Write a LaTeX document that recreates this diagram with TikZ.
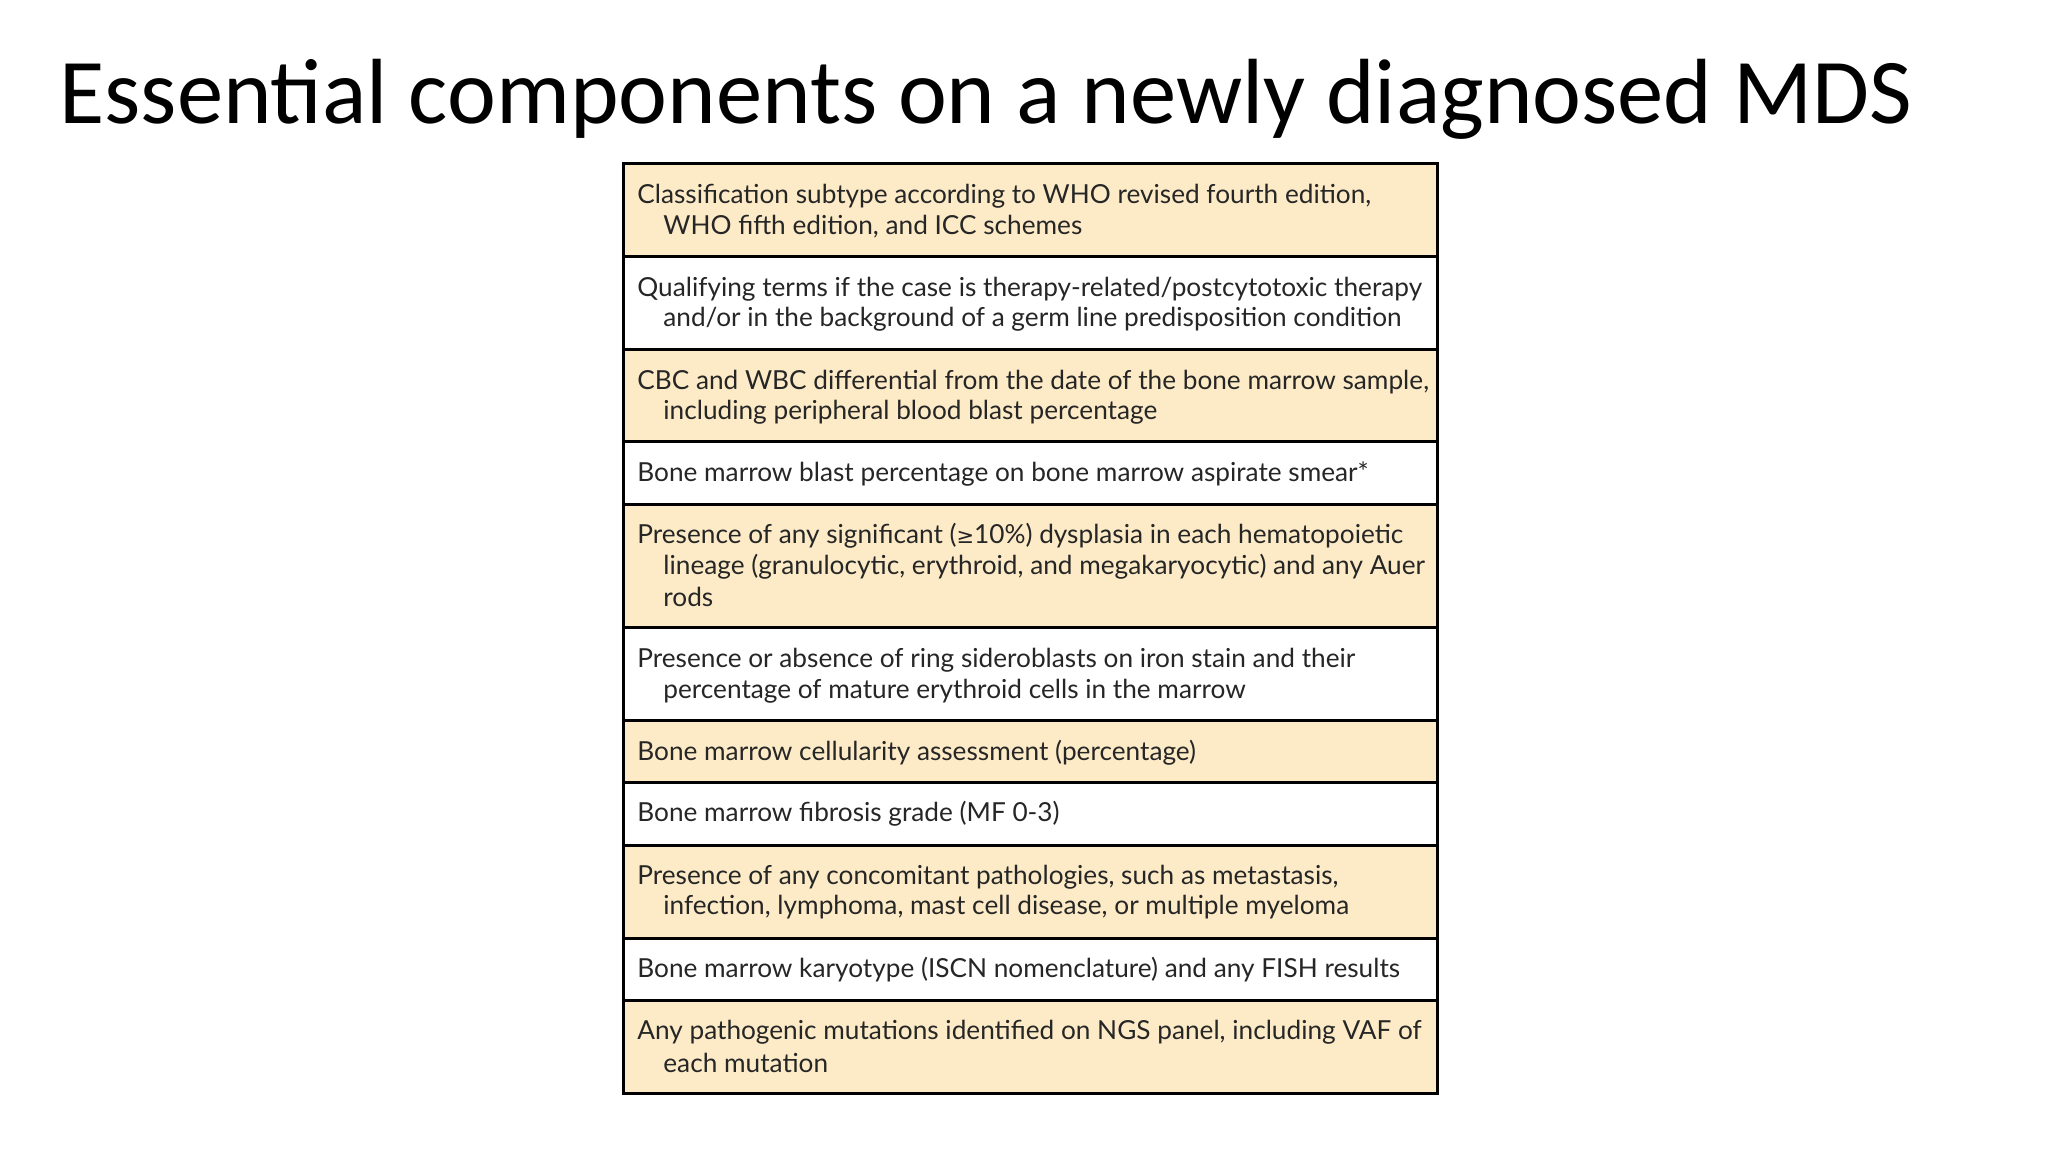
\documentclass[tikz,border=0pt]{standalone}
\usepackage{fontspec}
\setmainfont{Carlito}
\newfontfamily\tabfont{Lato}
\begin{document}
\begin{tikzpicture}[x=0.5pt,y=-0.5pt,
  tan/.style={fill={rgb,255:red,252;green,235;blue,198}},
  wht/.style={fill=white},
  cell/.style={draw=black,line width=1.5pt},
  txt/.style={anchor=west,inner sep=0pt,font=\tabfont\fontsize{13.1}{15}\selectfont,text=black!85}]
\useasboundingbox (0,0) rectangle (2048,1152);
\node[anchor=west,inner sep=0pt,font=\fontsize{46.3}{50}\selectfont] (title) at (59,99) {Essential components on a newly diagnosed MDS};
\foreach \a/\b/\s in {163/256/tan,256/349/wht,349/441/tan,441/504/wht,504/627/tan,627/720/wht,720/782/tan,782/845/wht,845/938/tan,938/1000/wht,1000/1093/tan}
  \path[\s] (623,\a) rectangle (1437,\b);
\foreach \a/\b in {163/256,256/349,349/441,441/504,504/627,627/720,720/782,782/845,845/938,938/1000,1000/1093}
  \draw[cell] (623,\a) rectangle (1437,\b);
\node[txt] (r1a) at (637,196) {Classification subtype according to WHO revised fourth edition,};
\node[txt] (r1b) at (663,227) {WHO fifth edition, and ICC schemes};
\node[txt] (r2a) at (637,289) {Qualifying terms if the case is therapy-related/postcytotoxic therapy};
\node[txt] (r2b) at (663,319) {and/or in the background of a germ line predisposition condition};
\node[txt] (r3a) at (637,382) {CBC and WBC differential from the date of the bone marrow sample,};
\node[txt] (r3b) at (663,412) {including peripheral blood blast percentage};
\node[txt] (r4) at (637,474) {Bone marrow blast percentage on bone marrow aspirate smear*};
\node[txt] (r5a) at (637,536) {Presence of any significant (\fontspec{DejaVu Sans}\fontsize{10.5}{12}\selectfont≥\tabfont\fontsize{13.1}{15}\selectfont 10\%) dysplasia in each hematopoietic};
\node[txt] (r5b) at (663,567) {lineage (granulocytic, erythroid, and megakaryocytic) and any Auer};
\node[txt] (r5c) at (663,597) {rods};
\node[txt] (r6a) at (637,660) {Presence or absence of ring sideroblasts on iron stain and their};
\node[txt] (r6b) at (663,691) {percentage of mature erythroid cells in the marrow};
\node[txt] (r7) at (637,753) {Bone marrow cellularity assessment (percentage)};
\node[txt] (r8) at (637,814) {Bone marrow fibrosis grade (MF 0-3)};
\node[txt] (r9a) at (637,877) {Presence of any concomitant pathologies, such as metastasis,};
\node[txt] (r9b) at (663,907) {infection, lymphoma, mast cell disease, or multiple myeloma};
\node[txt] (r10) at (637,970) {Bone marrow karyotype (ISCN nomenclature) and any FISH results};
\node[txt] (r11a) at (637,1032) {Any pathogenic mutations identified on NGS panel, including VAF of};
\node[txt] (r11b) at (663,1063) {each mutation};
\end{tikzpicture}
\end{document}
